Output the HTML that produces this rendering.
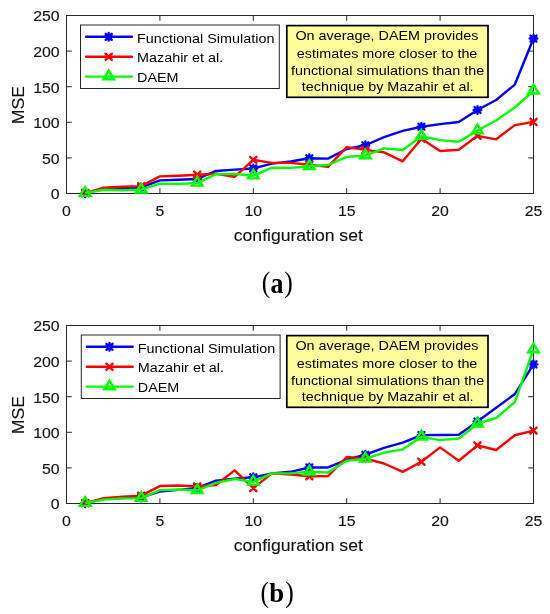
<!DOCTYPE html>
<html><head><meta charset="utf-8"><title>MSE vs configuration set</title>
<style>
html,body{margin:0;padding:0;background:#fff;}
body{width:550px;height:614px;overflow:hidden;}
svg{display:block;}
.tk{font-family:"Liberation Sans",Arial,sans-serif;font-size:15.1px;fill:#111;stroke:#111;stroke-width:0.12px;}
.lab{font-family:"Liberation Sans",Arial,sans-serif;font-size:16.6px;fill:#111;stroke:#111;stroke-width:0.1px;}
.lg{font-family:"Liberation Sans",Arial,sans-serif;font-size:13.7px;fill:#000;}
.an{font-family:"Liberation Sans",Arial,sans-serif;font-size:13.6px;fill:#000;}
.cap{font-family:"Liberation Serif","Times New Roman",serif;fill:#000;}
</style></head>
<body>
<svg width="550" height="614" viewBox="0 0 550 614">
<rect width="550" height="614" fill="#fff"/>
<g transform="translate(0,0)">
<rect x="66.5" y="15.5" width="467.0" height="178.0" fill="#fff" stroke="#262626" stroke-width="1"/>
<path d="M159.90 193.5V188.2M159.90 15.5V20.8M253.30 193.5V188.2M253.30 15.5V20.8M346.70 193.5V188.2M346.70 15.5V20.8M440.10 193.5V188.2M440.10 15.5V20.8M66.5 157.90H71.8M533.5 157.90H528.2M66.5 122.30H71.8M533.5 122.30H528.2M66.5 86.70H71.8M533.5 86.70H528.2M66.5 51.10H71.8M533.5 51.10H528.2" stroke="#262626" stroke-width="1" fill="none"/>
<text transform="translate(66.50,216.3) scale(1.05,1)" text-anchor="middle" class="tk">0</text>
<text transform="translate(159.90,216.3) scale(1.05,1)" text-anchor="middle" class="tk">5</text>
<text transform="translate(253.30,216.3) scale(1.05,1)" text-anchor="middle" class="tk">10</text>
<text transform="translate(346.70,216.3) scale(1.05,1)" text-anchor="middle" class="tk">15</text>
<text transform="translate(440.10,216.3) scale(1.05,1)" text-anchor="middle" class="tk">20</text>
<text transform="translate(533.50,216.3) scale(1.05,1)" text-anchor="middle" class="tk">25</text>
<text transform="translate(59.6,199.40) scale(1.05,1)" text-anchor="end" class="tk">0</text>
<text transform="translate(59.6,163.80) scale(1.05,1)" text-anchor="end" class="tk">50</text>
<text transform="translate(59.6,128.20) scale(1.05,1)" text-anchor="end" class="tk">100</text>
<text transform="translate(59.6,92.60) scale(1.05,1)" text-anchor="end" class="tk">150</text>
<text transform="translate(59.6,57.00) scale(1.05,1)" text-anchor="end" class="tk">200</text>
<text transform="translate(59.6,21.40) scale(1.05,1)" text-anchor="end" class="tk">250</text>
<text transform="translate(298.3,241) scale(1.06,1)" text-anchor="middle" class="lab">configuration set</text>
<text transform="translate(24.3,105.20) rotate(-90) scale(1.06,1)" text-anchor="middle" class="lab">MSE</text>
</g>
<polyline points="85.18,193.14 103.86,188.87 122.54,188.16 141.22,187.45 159.90,180.33 178.58,179.69 197.26,178.98 215.94,170.93 234.62,169.65 253.30,168.44 271.98,163.60 290.66,161.46 309.34,158.26 328.02,158.61 346.70,149.00 365.38,145.23 384.06,137.04 402.74,130.92 421.42,126.71 440.10,124.08 458.78,121.94 477.46,109.98 496.14,100.01 514.82,84.56 533.50,38.57" fill="none" stroke="#0000ff" stroke-width="2.4" stroke-linejoin="round"/>
<path d="M81.38 193.14H88.98M85.18 189.34V196.94M82.18 190.14L88.18 196.14M82.18 196.14L88.18 190.14" stroke="#0000ff" stroke-width="2.4" stroke-linecap="round" fill="none"/>
<path d="M137.42 187.45H145.02M141.22 183.65V191.25M138.22 184.45L144.22 190.45M138.22 190.45L144.22 184.45" stroke="#0000ff" stroke-width="2.4" stroke-linecap="round" fill="none"/>
<path d="M193.46 178.98H201.06M197.26 175.18V182.78M194.26 175.98L200.26 181.98M194.26 181.98L200.26 175.98" stroke="#0000ff" stroke-width="2.4" stroke-linecap="round" fill="none"/>
<path d="M249.50 168.44H257.10M253.30 164.64V172.24M250.30 165.44L256.30 171.44M250.30 171.44L256.30 165.44" stroke="#0000ff" stroke-width="2.4" stroke-linecap="round" fill="none"/>
<path d="M305.54 158.26H313.14M309.34 154.46V162.06M306.34 155.26L312.34 161.26M306.34 161.26L312.34 155.26" stroke="#0000ff" stroke-width="2.4" stroke-linecap="round" fill="none"/>
<path d="M361.58 145.23H369.18M365.38 141.43V149.03M362.38 142.23L368.38 148.23M362.38 148.23L368.38 142.23" stroke="#0000ff" stroke-width="2.4" stroke-linecap="round" fill="none"/>
<path d="M417.62 126.71H425.22M421.42 122.91V130.51M418.42 123.71L424.42 129.71M418.42 129.71L424.42 123.71" stroke="#0000ff" stroke-width="2.4" stroke-linecap="round" fill="none"/>
<path d="M473.66 109.98H481.26M477.46 106.18V113.78M474.46 106.98L480.46 112.98M474.46 112.98L480.46 106.98" stroke="#0000ff" stroke-width="2.4" stroke-linecap="round" fill="none"/>
<path d="M529.70 38.57H537.30M533.50 34.77V42.37M530.50 35.57L536.50 41.57M530.50 41.57L536.50 35.57" stroke="#0000ff" stroke-width="2.4" stroke-linecap="round" fill="none"/>
<polyline points="85.18,193.07 103.86,187.73 122.54,186.74 141.22,186.10 159.90,176.41 178.58,175.70 197.26,174.70 215.94,173.78 234.62,176.77 253.30,159.89 271.98,162.88 290.66,162.88 309.34,164.81 328.02,166.87 346.70,147.08 365.38,149.93 384.06,152.42 402.74,161.32 421.42,138.68 440.10,151.06 458.78,149.71 477.46,135.83 496.14,139.32 514.82,125.15 533.50,121.94" fill="none" stroke="#ff0000" stroke-width="2.4" stroke-linejoin="round"/>
<path d="M82.08 189.97L88.28 196.17M82.08 196.17L88.28 189.97" stroke="#ff0000" stroke-width="2.4" stroke-linecap="round" fill="none"/>
<path d="M138.12 183.00L144.32 189.20M138.12 189.20L144.32 183.00" stroke="#ff0000" stroke-width="2.4" stroke-linecap="round" fill="none"/>
<path d="M194.16 171.60L200.36 177.80M194.16 177.80L200.36 171.60" stroke="#ff0000" stroke-width="2.4" stroke-linecap="round" fill="none"/>
<path d="M250.20 156.79L256.40 162.99M250.20 162.99L256.40 156.79" stroke="#ff0000" stroke-width="2.4" stroke-linecap="round" fill="none"/>
<path d="M306.24 161.71L312.44 167.91M306.24 167.91L312.44 161.71" stroke="#ff0000" stroke-width="2.4" stroke-linecap="round" fill="none"/>
<path d="M362.28 146.83L368.48 153.03M362.28 153.03L368.48 146.83" stroke="#ff0000" stroke-width="2.4" stroke-linecap="round" fill="none"/>
<path d="M418.32 135.58L424.52 141.78M418.32 141.78L424.52 135.58" stroke="#ff0000" stroke-width="2.4" stroke-linecap="round" fill="none"/>
<path d="M474.36 132.73L480.56 138.93M474.36 138.93L480.56 132.73" stroke="#ff0000" stroke-width="2.4" stroke-linecap="round" fill="none"/>
<path d="M530.40 118.84L536.60 125.04M530.40 125.04L536.60 118.84" stroke="#ff0000" stroke-width="2.4" stroke-linecap="round" fill="none"/>
<polyline points="85.18,193.14 103.86,189.73 122.54,190.22 141.22,189.73 159.90,183.60 178.58,184.03 197.26,182.89 215.94,174.20 234.62,173.92 253.30,175.70 271.98,167.65 290.66,167.87 309.34,166.23 328.02,165.02 346.70,156.90 365.38,155.55 384.06,148.36 402.74,149.93 421.42,136.18 440.10,140.10 458.78,141.81 477.46,130.49 496.14,120.52 514.82,107.49 533.50,90.76" fill="none" stroke="#00ff00" stroke-width="2.4" stroke-linejoin="round"/>
<path d="M85.18 187.14L90.48 195.84L79.88 195.84Z" stroke="#00ff00" stroke-width="2.4" stroke-linejoin="miter" fill="none"/>
<path d="M141.22 183.73L146.52 192.43L135.92 192.43Z" stroke="#00ff00" stroke-width="2.4" stroke-linejoin="miter" fill="none"/>
<path d="M197.26 176.89L202.56 185.59L191.96 185.59Z" stroke="#00ff00" stroke-width="2.4" stroke-linejoin="miter" fill="none"/>
<path d="M253.30 169.70L258.60 178.40L248.00 178.40Z" stroke="#00ff00" stroke-width="2.4" stroke-linejoin="miter" fill="none"/>
<path d="M309.34 160.23L314.64 168.93L304.04 168.93Z" stroke="#00ff00" stroke-width="2.4" stroke-linejoin="miter" fill="none"/>
<path d="M365.38 149.55L370.68 158.25L360.08 158.25Z" stroke="#00ff00" stroke-width="2.4" stroke-linejoin="miter" fill="none"/>
<path d="M421.42 130.18L426.72 138.88L416.12 138.88Z" stroke="#00ff00" stroke-width="2.4" stroke-linejoin="miter" fill="none"/>
<path d="M477.46 124.49L482.76 133.19L472.16 133.19Z" stroke="#00ff00" stroke-width="2.4" stroke-linejoin="miter" fill="none"/>
<path d="M533.50 84.76L538.80 93.46L528.20 93.46Z" stroke="#00ff00" stroke-width="2.4" stroke-linejoin="miter" fill="none"/>
<g transform="translate(0.0,0)">
<rect x="80.5" y="25" width="198.8" height="63.5" fill="#fff" stroke="#262626" stroke-width="1"/>
<path d="M86.1 36.8H131.9" stroke="#0000ff" stroke-width="2.4" stroke-linecap="round"/>
<path d="M104.90 36.80H112.50M108.70 33.00V40.60M105.70 33.80L111.70 39.80M105.70 39.80L111.70 33.80" stroke="#0000ff" stroke-width="2.4" stroke-linecap="round" fill="none"/>
<text transform="translate(137,42.80) scale(1.05,1)" class="lg">Functional Simulation</text>
<path d="M86.1 56.8H131.9" stroke="#ff0000" stroke-width="2.4" stroke-linecap="round"/>
<path d="M105.60 53.70L111.80 59.90M105.60 59.90L111.80 53.70" stroke="#ff0000" stroke-width="2.4" stroke-linecap="round" fill="none"/>
<text transform="translate(137,62.30) scale(1.05,1)" class="lg">Mazahir et al.</text>
<path d="M86.1 76.6H131.9" stroke="#00ff00" stroke-width="2.4" stroke-linecap="round"/>
<path d="M108.70 70.60L114.00 79.30L103.40 79.30Z" stroke="#00ff00" stroke-width="2.4" stroke-linejoin="miter" fill="none"/>
<text transform="translate(137,81.90) scale(1.05,1)" class="lg">DAEM</text>
</g>
<g transform="translate(0,0)">
<rect x="286.8" y="25.6" width="201.2" height="71.7" fill="#fdfd9b" stroke="#000" stroke-width="1.7"/>
<text transform="translate(386.90,39.80) scale(1.058,1)" text-anchor="middle" class="an">On average, DAEM provides</text>
<text transform="translate(387.10,57.50) scale(1.058,1)" text-anchor="middle" class="an">estimates more closer to the</text>
<text transform="translate(387.60,75.00) scale(1.058,1)" text-anchor="middle" class="an">functional simulations than the</text>
<text transform="translate(387.70,91.40) scale(1.058,1)" text-anchor="middle" class="an">technique by Mazahir et al.</text>
<text transform="translate(261.87,291.7) scale(0.9,1)" class="cap" font-size="28.5">(</text>
<text transform="translate(270.52,292.5) scale(0.91,1)" class="cap" font-size="28.5" font-weight="bold">a</text>
<text transform="translate(284.13,291.7) scale(0.9,1)" class="cap" font-size="28.5">)</text>
</g>
<g transform="translate(0,310)">
<rect x="66.5" y="15.5" width="467.0" height="178.0" fill="#fff" stroke="#262626" stroke-width="1"/>
<path d="M159.90 193.5V188.2M159.90 15.5V20.8M253.30 193.5V188.2M253.30 15.5V20.8M346.70 193.5V188.2M346.70 15.5V20.8M440.10 193.5V188.2M440.10 15.5V20.8M66.5 157.90H71.8M533.5 157.90H528.2M66.5 122.30H71.8M533.5 122.30H528.2M66.5 86.70H71.8M533.5 86.70H528.2M66.5 51.10H71.8M533.5 51.10H528.2" stroke="#262626" stroke-width="1" fill="none"/>
<text transform="translate(66.50,216.3) scale(1.05,1)" text-anchor="middle" class="tk">0</text>
<text transform="translate(159.90,216.3) scale(1.05,1)" text-anchor="middle" class="tk">5</text>
<text transform="translate(253.30,216.3) scale(1.05,1)" text-anchor="middle" class="tk">10</text>
<text transform="translate(346.70,216.3) scale(1.05,1)" text-anchor="middle" class="tk">15</text>
<text transform="translate(440.10,216.3) scale(1.05,1)" text-anchor="middle" class="tk">20</text>
<text transform="translate(533.50,216.3) scale(1.05,1)" text-anchor="middle" class="tk">25</text>
<text transform="translate(59.6,199.40) scale(1.05,1)" text-anchor="end" class="tk">0</text>
<text transform="translate(59.6,163.80) scale(1.05,1)" text-anchor="end" class="tk">50</text>
<text transform="translate(59.6,128.20) scale(1.05,1)" text-anchor="end" class="tk">100</text>
<text transform="translate(59.6,92.60) scale(1.05,1)" text-anchor="end" class="tk">150</text>
<text transform="translate(59.6,57.00) scale(1.05,1)" text-anchor="end" class="tk">200</text>
<text transform="translate(59.6,21.40) scale(1.05,1)" text-anchor="end" class="tk">250</text>
<text transform="translate(298.3,241) scale(1.06,1)" text-anchor="middle" class="lab">configuration set</text>
<text transform="translate(24.3,105.20) rotate(-90) scale(1.06,1)" text-anchor="middle" class="lab">MSE</text>
</g>
<polyline points="85.18,503.14 103.86,498.87 122.54,498.16 141.22,497.45 159.90,491.68 178.58,489.90 197.26,487.84 215.94,480.72 234.62,478.58 253.30,477.30 271.98,473.38 290.66,471.82 309.34,467.47 328.02,467.47 346.70,459.78 365.38,454.73 384.06,447.82 402.74,442.70 421.42,435.15 440.10,434.93 458.78,434.72 477.46,421.48 496.14,407.81 514.82,394.07 533.50,364.38" fill="none" stroke="#0000ff" stroke-width="2.4" stroke-linejoin="round"/>
<path d="M81.38 503.14H88.98M85.18 499.34V506.94M82.18 500.14L88.18 506.14M82.18 506.14L88.18 500.14" stroke="#0000ff" stroke-width="2.4" stroke-linecap="round" fill="none"/>
<path d="M137.42 497.45H145.02M141.22 493.65V501.25M138.22 494.45L144.22 500.45M138.22 500.45L144.22 494.45" stroke="#0000ff" stroke-width="2.4" stroke-linecap="round" fill="none"/>
<path d="M193.46 487.84H201.06M197.26 484.04V491.64M194.26 484.84L200.26 490.84M194.26 490.84L200.26 484.84" stroke="#0000ff" stroke-width="2.4" stroke-linecap="round" fill="none"/>
<path d="M249.50 477.30H257.10M253.30 473.50V481.10M250.30 474.30L256.30 480.30M250.30 480.30L256.30 474.30" stroke="#0000ff" stroke-width="2.4" stroke-linecap="round" fill="none"/>
<path d="M305.54 467.47H313.14M309.34 463.67V471.27M306.34 464.47L312.34 470.47M306.34 470.47L312.34 464.47" stroke="#0000ff" stroke-width="2.4" stroke-linecap="round" fill="none"/>
<path d="M361.58 454.73H369.18M365.38 450.93V458.53M362.38 451.73L368.38 457.73M362.38 457.73L368.38 451.73" stroke="#0000ff" stroke-width="2.4" stroke-linecap="round" fill="none"/>
<path d="M417.62 435.15H425.22M421.42 431.35V438.95M418.42 432.15L424.42 438.15M418.42 438.15L424.42 432.15" stroke="#0000ff" stroke-width="2.4" stroke-linecap="round" fill="none"/>
<path d="M473.66 421.48H481.26M477.46 417.68V425.28M474.46 418.48L480.46 424.48M474.46 424.48L480.46 418.48" stroke="#0000ff" stroke-width="2.4" stroke-linecap="round" fill="none"/>
<path d="M529.70 364.38H537.30M533.50 360.58V368.18M530.50 361.38L536.50 367.38M530.50 367.38L536.50 361.38" stroke="#0000ff" stroke-width="2.4" stroke-linecap="round" fill="none"/>
<polyline points="85.18,503.07 103.86,498.16 122.54,496.59 141.22,495.67 159.90,486.06 178.58,485.49 197.26,486.41 215.94,484.99 234.62,470.32 253.30,488.12 271.98,473.38 290.66,474.52 309.34,476.23 328.02,476.09 346.70,457.01 365.38,458.64 384.06,463.49 402.74,471.82 421.42,461.71 440.10,447.39 458.78,460.71 477.46,445.40 496.14,450.03 514.82,435.22 533.50,430.59" fill="none" stroke="#ff0000" stroke-width="2.4" stroke-linejoin="round"/>
<path d="M82.08 499.97L88.28 506.17M82.08 506.17L88.28 499.97" stroke="#ff0000" stroke-width="2.4" stroke-linecap="round" fill="none"/>
<path d="M138.12 492.57L144.32 498.77M138.12 498.77L144.32 492.57" stroke="#ff0000" stroke-width="2.4" stroke-linecap="round" fill="none"/>
<path d="M194.16 483.31L200.36 489.51M194.16 489.51L200.36 483.31" stroke="#ff0000" stroke-width="2.4" stroke-linecap="round" fill="none"/>
<path d="M250.20 485.02L256.40 491.22M250.20 491.22L256.40 485.02" stroke="#ff0000" stroke-width="2.4" stroke-linecap="round" fill="none"/>
<path d="M306.24 473.13L312.44 479.33M306.24 479.33L312.44 473.13" stroke="#ff0000" stroke-width="2.4" stroke-linecap="round" fill="none"/>
<path d="M362.28 455.54L368.48 461.74M362.28 461.74L368.48 455.54" stroke="#ff0000" stroke-width="2.4" stroke-linecap="round" fill="none"/>
<path d="M418.32 458.61L424.52 464.81M418.32 464.81L424.52 458.61" stroke="#ff0000" stroke-width="2.4" stroke-linecap="round" fill="none"/>
<path d="M474.36 442.30L480.56 448.50M474.36 448.50L480.56 442.30" stroke="#ff0000" stroke-width="2.4" stroke-linecap="round" fill="none"/>
<path d="M530.40 427.49L536.60 433.69M530.40 433.69L536.60 427.49" stroke="#ff0000" stroke-width="2.4" stroke-linecap="round" fill="none"/>
<polyline points="85.18,503.14 103.86,499.58 122.54,498.37 141.22,498.16 159.90,490.11 178.58,489.47 197.26,490.47 215.94,482.92 234.62,479.01 253.30,481.93 271.98,473.38 290.66,473.38 309.34,471.82 328.02,472.53 346.70,460.78 365.38,458.93 384.06,452.59 402.74,449.32 421.42,436.93 440.10,440.13 458.78,438.57 477.46,423.76 496.14,417.99 514.82,402.11 533.50,349.57" fill="none" stroke="#00ff00" stroke-width="2.4" stroke-linejoin="round"/>
<path d="M85.18 497.14L90.48 505.84L79.88 505.84Z" stroke="#00ff00" stroke-width="2.4" stroke-linejoin="miter" fill="none"/>
<path d="M141.22 492.16L146.52 500.86L135.92 500.86Z" stroke="#00ff00" stroke-width="2.4" stroke-linejoin="miter" fill="none"/>
<path d="M197.26 484.47L202.56 493.17L191.96 493.17Z" stroke="#00ff00" stroke-width="2.4" stroke-linejoin="miter" fill="none"/>
<path d="M253.30 475.93L258.60 484.63L248.00 484.63Z" stroke="#00ff00" stroke-width="2.4" stroke-linejoin="miter" fill="none"/>
<path d="M309.34 465.82L314.64 474.52L304.04 474.52Z" stroke="#00ff00" stroke-width="2.4" stroke-linejoin="miter" fill="none"/>
<path d="M365.38 452.93L370.68 461.63L360.08 461.63Z" stroke="#00ff00" stroke-width="2.4" stroke-linejoin="miter" fill="none"/>
<path d="M421.42 430.93L426.72 439.63L416.12 439.63Z" stroke="#00ff00" stroke-width="2.4" stroke-linejoin="miter" fill="none"/>
<path d="M477.46 417.76L482.76 426.46L472.16 426.46Z" stroke="#00ff00" stroke-width="2.4" stroke-linejoin="miter" fill="none"/>
<path d="M533.50 343.57L538.80 352.27L528.20 352.27Z" stroke="#00ff00" stroke-width="2.4" stroke-linejoin="miter" fill="none"/>
<g transform="translate(0.8,310)">
<rect x="80.5" y="25" width="198.8" height="63.5" fill="#fff" stroke="#262626" stroke-width="1"/>
<path d="M86.1 36.8H131.9" stroke="#0000ff" stroke-width="2.4" stroke-linecap="round"/>
<path d="M104.90 36.80H112.50M108.70 33.00V40.60M105.70 33.80L111.70 39.80M105.70 39.80L111.70 33.80" stroke="#0000ff" stroke-width="2.4" stroke-linecap="round" fill="none"/>
<text transform="translate(137,42.80) scale(1.05,1)" class="lg">Functional Simulation</text>
<path d="M86.1 56.8H131.9" stroke="#ff0000" stroke-width="2.4" stroke-linecap="round"/>
<path d="M105.60 53.70L111.80 59.90M105.60 59.90L111.80 53.70" stroke="#ff0000" stroke-width="2.4" stroke-linecap="round" fill="none"/>
<text transform="translate(137,62.30) scale(1.05,1)" class="lg">Mazahir et al.</text>
<path d="M86.1 76.6H131.9" stroke="#00ff00" stroke-width="2.4" stroke-linecap="round"/>
<path d="M108.70 70.60L114.00 79.30L103.40 79.30Z" stroke="#00ff00" stroke-width="2.4" stroke-linejoin="miter" fill="none"/>
<text transform="translate(137,81.90) scale(1.05,1)" class="lg">DAEM</text>
</g>
<g transform="translate(0,310)">
<rect x="286.8" y="25.6" width="201.2" height="71.7" fill="#fdfd9b" stroke="#000" stroke-width="1.7"/>
<text transform="translate(386.90,39.80) scale(1.058,1)" text-anchor="middle" class="an">On average, DAEM provides</text>
<text transform="translate(387.10,57.50) scale(1.058,1)" text-anchor="middle" class="an">estimates more closer to the</text>
<text transform="translate(387.60,75.00) scale(1.058,1)" text-anchor="middle" class="an">functional simulations than the</text>
<text transform="translate(387.70,91.40) scale(1.058,1)" text-anchor="middle" class="an">technique by Mazahir et al.</text>
<text transform="translate(260.47,291.7) scale(0.9,1)" class="cap" font-size="28.5">(</text>
<text transform="translate(269.33,292.2) scale(0.97,1)" class="cap" font-size="27.6" font-weight="bold">b</text>
<text transform="translate(285.23,291.7) scale(0.9,1)" class="cap" font-size="28.5">)</text>
</g>
</svg>
</body></html>
